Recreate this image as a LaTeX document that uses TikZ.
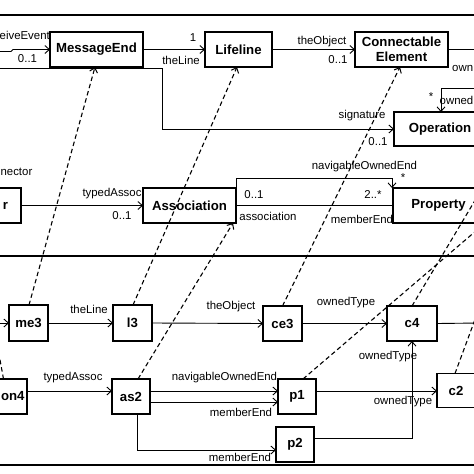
\documentclass[tikz,border=0pt]{standalone}
\usepackage{fontspec}
\setmainfont{Liberation Sans}
\usetikzlibrary{arrows.meta,calc}
\tikzset{
  cls/.style={draw, line width=1.2pt, inner sep=0pt, outer sep=0pt, minimum height=35pt,
    font=\fontsize{13.2}{15}\selectfont\bfseries, align=center},
  lbl/.style={font=\fontsize{11.4}{13}\selectfont, inner sep=0pt},
  conn/.style={line width=0.9pt},
  tip/.style={-{Straight Barb[length=4.5pt,width=8pt,line width=0.9pt]}},
  instline/.style={line width=1.1pt, dash pattern=on 4.5pt off 3pt},
  inst/.style={instline, -{Straight Barb[length=4.5pt,width=8pt,line width=1pt]}},
  frameline/.style={line width=1.3pt},
}
\begin{document}
\begin{tikzpicture}[x=1pt,y=-1pt]
\useasboundingbox (0,0) rectangle (474,474);
\fill[white] (0,0) rectangle (474,474);
\clip (0,0) rectangle (474,474);

% free ends
\coordinate (fl1) at (-5,15);   \coordinate (fr1) at (480,15);
\coordinate (fl2) at (-5,256);  \coordinate (fr2) at (480,256);
\coordinate (fl3) at (-5,465);  \coordinate (fr3) at (480,465);
\coordinate (reIn) at (-5,51.5);
\coordinate (reK1) at (11,51.5);
\coordinate (reK2) at (13,49.5);
\coordinate (sigSrc) at (-5,68);
\coordinate (sigBend) at (162,68);
\coordinate (ceOut) at (480,49.5);
\coordinate (opSrc) at (480,88);
\coordinate (me3In) at (-5,323);
\coordinate (c4Out) at (480,323);
\coordinate (p1Far) at (491,218);
\coordinate (c4Far) at (480,192);
\coordinate (c2Far) at (480,306);
\coordinate (on4Far) at (-25,223);

% frame lines
\draw[frameline] (fl1) -- (fr1);
\draw[frameline] (fl2) -- (fr2);
\draw[frameline] (fl3) -- (fr3);

% class nodes
\node[cls, minimum width=93pt] (ME) at (96.5,49.5) {MessageEnd};
\node[cls, minimum width=67pt] (LL) at (238.5,49.5) {Lifeline};
\node[cls, minimum width=93pt] (CE) at (401.5,49.5) {Connectable\\Element};
\node[cls, minimum width=92pt, minimum height=34pt] (OP) at (440,129) {Operation};
\node[cls, minimum width=93pt] (AS) at (189.5,205.5) {Association};
\node[cls, minimum width=91pt] (PR) at (438.5,205.5) {Property};
\node[cls, minimum width=92pt, text width=66pt, align=right] (CO) at (-25,205.5) {r};

% instance nodes
\node[cls, minimum width=39pt, minimum height=36pt] (ME3) at (28.5,323) {me3};
\node[cls, minimum width=39pt, minimum height=36pt] (L3) at (132.5,323) {l3};
\node[cls, minimum width=39pt] (CE3) at (282.5,323.5) {ce3};
\node[cls, minimum width=50pt] (C4) at (412,323.5) {c4};
\node[cls, minimum width=51pt, text width=46pt, align=right] (ON4) at (1.5,396.5) {on4};
\node[cls, minimum width=38pt] (AS2) at (131,396.5) {as2};
\node[cls, minimum width=38pt] (P1) at (297,396.5) {p1};
\node[cls, minimum width=38pt] (P2) at (295,444.5) {p2};
\node[cls, minimum width=38pt, minimum height=34pt] (C2) at (456,390.5) {c2};

% top connectors
\draw[conn,tip] (reIn) -- (reK1) -- (reK2) -- (ME.west);
\draw[conn,tip] (sigSrc) -- (sigBend) |- (OP.west);
\draw[conn,tip] (ME.east) -- (LL.west);
\draw[conn,tip] (LL.east) -- (CE.west);
\draw[conn] (CE.east) -- (ceOut);
\draw[conn,tip] (opSrc) -| ([xshift=1pt]OP.north);
\draw[conn,tip] (CO.east) -- (AS.west);
\draw[conn] (AS.east) -- (PR.west);
\draw[conn,tip] (AS.north east) -- ++(0,-10) -| ([xshift=-1pt]PR.north west);

% lower connectors
\coordinate (on4o) at ([yshift=5.5pt]ON4.east);
\coordinate (as2o) at ([yshift=5.5pt]AS2.east);
\coordinate (as2m) at ([yshift=-5.5pt]AS2.east);
\coordinate (as2b) at ([xshift=6pt]AS2.south);
\coordinate (p1o) at ([yshift=5.5pt]P1.east);
\coordinate (p2o) at ([yshift=6.5pt]P2.east);
\draw[conn,tip] (me3In) -- (ME3.west);
\draw[conn,tip] (ME3.east) -- (L3.west);
\draw[conn,tip] (L3.east) -- (CE3.west);
\draw[conn,tip] (CE3.east) -- (C4.west);
\draw[conn] (C4.east) -- (c4Out);
\draw[conn,tip] (on4o) -- (on4o -| AS2.west);
\draw[conn,tip] (as2o) -- (as2o -| P1.west);
\draw[conn,tip] (as2m) -- (as2m -| P1.west);
\draw[conn,tip] (as2b) |- ([yshift=-5.5pt]P2.west);
\draw[conn,tip] (p1o) -- (p1o -| C2.west);
\draw[conn,tip] (p2o) -| (C4.south);

% instance-of dashed lines
\draw[inst] ([xshift=0.5pt]ME3.north) -- ([xshift=-1.5pt]ME.south);
\draw[inst] ([xshift=0.5pt]L3.north) -- ([xshift=-1.5pt]LL.south);
\draw[inst] (CE3.north) -- ([xshift=-1.5pt]CE.south);
\draw[inst] ([xshift=7pt]AS2.north) -- ([xshift=-3pt]AS.south east);
\draw[instline] ([xshift=6pt]P1.north) -- (p1Far);
\draw[instline] (C4.north) -- (c4Far);
\draw[instline] ([xshift=-1pt]C2.north) -- (c2Far);
\draw[instline] ([xshift=2pt]ON4.north) -- (on4Far);

% labels top
\node[lbl, anchor=east] (t1) at (50,35) {eiveEvent};
\node[lbl] (t2) at (27.5,59) {0..1};
\node[lbl] (t3) at (193,38) {1};
\node[lbl] (t4) at (181,60) {theLine};
\node[lbl] (t5) at (322,42) {theObject};
\node[lbl] (t6) at (338,60) {0..1};
\node[lbl, anchor=west] (t7) at (452,68) {own};
\node[lbl] (t8) at (431,97) {*};
\node[lbl, anchor=west] (t9) at (439.5,100) {owned};
\node[lbl] (t10) at (362,116) {signature};
\node[lbl] (t11) at (378,142) {0..1};
\node[lbl, anchor=east] (t12) at (32.5,172) {nector};
\node[lbl] (t13) at (112,194) {typedAssoc};
\node[lbl] (t14) at (122,216) {0..1};
\node[lbl] (t15) at (364.5,167) {navigableOwnedEnd};
\node[lbl] (t16) at (403,178) {*};
\node[lbl] (t17) at (254,195) {0..1};
\node[lbl] (t18) at (268,216) {association};
\node[lbl] (t19) at (373,195) {2..*};
\node[lbl] (t20) at (362,219) {memberEnd};

% labels bottom
\node[lbl] (b1) at (89,309) {theLine};
\node[lbl] (b2) at (231,307) {theObject};
\node[lbl] (b3) at (346,303) {ownedType};
\node[lbl] (b4) at (73,378) {typedAssoc};
\node[lbl] (b5) at (224.5,378) {navigableOwnedEnd};
\node[lbl] (b6) at (241,412) {memberEnd};
\node[lbl] (b7) at (240,457) {memberEnd};
\node[lbl] (b8) at (403,402) {ownedType};
\node[lbl] (b9) at (388,357) {ownedType};
\end{tikzpicture}
\end{document}
